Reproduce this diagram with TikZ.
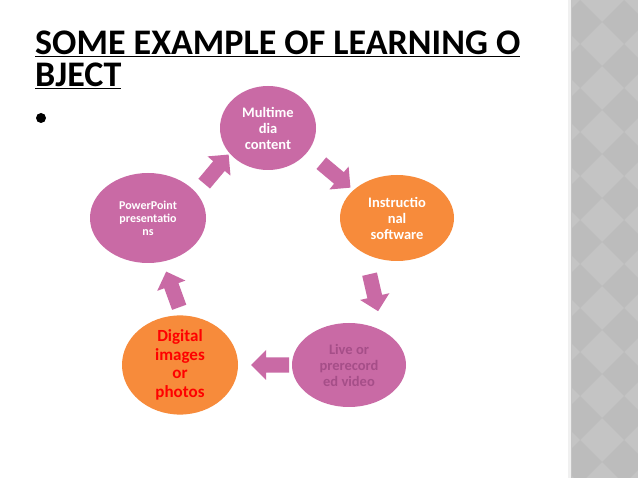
\documentclass[tikz,border=0pt]{standalone}
\usepackage{fontspec}
\setmainfont{Carlito}
\usetikzlibrary{shapes.arrows,shapes.geometric}
\definecolor{pinkc}{HTML}{C96AA5}
\definecolor{orangec}{HTML}{F78B3B}
\definecolor{livetxt}{HTML}{A54E88}
\definecolor{stripc}{HTML}{C4C4C4}
\definecolor{stripd}{HTML}{BCBCBC}
\tikzset{
 ell/.style={ellipse, fill=pinkc, inner sep=0pt, font=\bfseries\fontsize{14.5}{16}\selectfont, align=center, text=white},
 blk/.style={single arrow, fill=pinkc, minimum height=38pt, minimum width=30pt, inner xsep=0pt, inner ysep=7pt, single arrow tip angle=90},
}
\begin{document}
\begin{tikzpicture}[x=1pt,y=-1pt]
\useasboundingbox (0,0) rectangle (638,478);
\fill[white] (0,0) rectangle (638,478);
% right strip
\fill[stripc] (568,0) rectangle (638,478);
\begin{scope}
\clip (572,0) rectangle (638,478);
\foreach \i in {0,...,12}{
 \foreach \j in {0,...,2}{
  \fill[stripd] (580+\j*44,\i*44) -- ++(22,22) -- ++(-22,22) -- ++(-22,-22) -- cycle;
 }}
\end{scope}
\fill[gray!12] (568,0) rectangle (571,478);
% title
\node[anchor=base west, inner sep=0pt, font=\bfseries\fontsize{36}{38}\selectfont] (t1) at (35,55) {\underline{SOME EXAMPLE OF LEARNING O}};
\node[anchor=base west, inner sep=0pt, font=\bfseries\fontsize{36}{38}\selectfont] (t2) at (35,87) {\underline{BJECT}};
\node[circle, fill=black, minimum size=10pt, inner sep=0pt] (b) at (41,118) {};
% ellipses
\node[ell, minimum width=96pt, minimum height=84pt] (mm) at (268,128) {Multime\\dia\\content};
\node[ell, fill=orangec, minimum width=114pt, minimum height=86pt] (ins) at (397,218) {Instructio\\nal\\software};
\node[ell, minimum width=114pt, minimum height=84pt, text=livetxt] (live) at (349,365) {Live or\\prerecord\\ed video};
\node[ell, fill=orangec, minimum width=116pt, minimum height=90pt, text=red, font=\bfseries\fontsize{17}{18.5}\selectfont] (dig) at (180,365) {Digital\\images\\or\\photos};
\node[ell, minimum width=116pt, minimum height=90pt, font=\bfseries\fontsize{12}{13}\selectfont] (pp) at (148,218) {PowerPoint\\presentatio\\ns};
% block arrows
\node[blk, rotate=50] (a1) at (214,172) {};
\node[blk, rotate=-40] (a2) at (333,173) {};
\node[blk, rotate=-77] (a3) at (373,289) {};
\node[blk, rotate=180] (a4) at (274,365) {};
\node[blk, rotate=110] (a5) at (174,293) {};
\end{tikzpicture}
\end{document}
